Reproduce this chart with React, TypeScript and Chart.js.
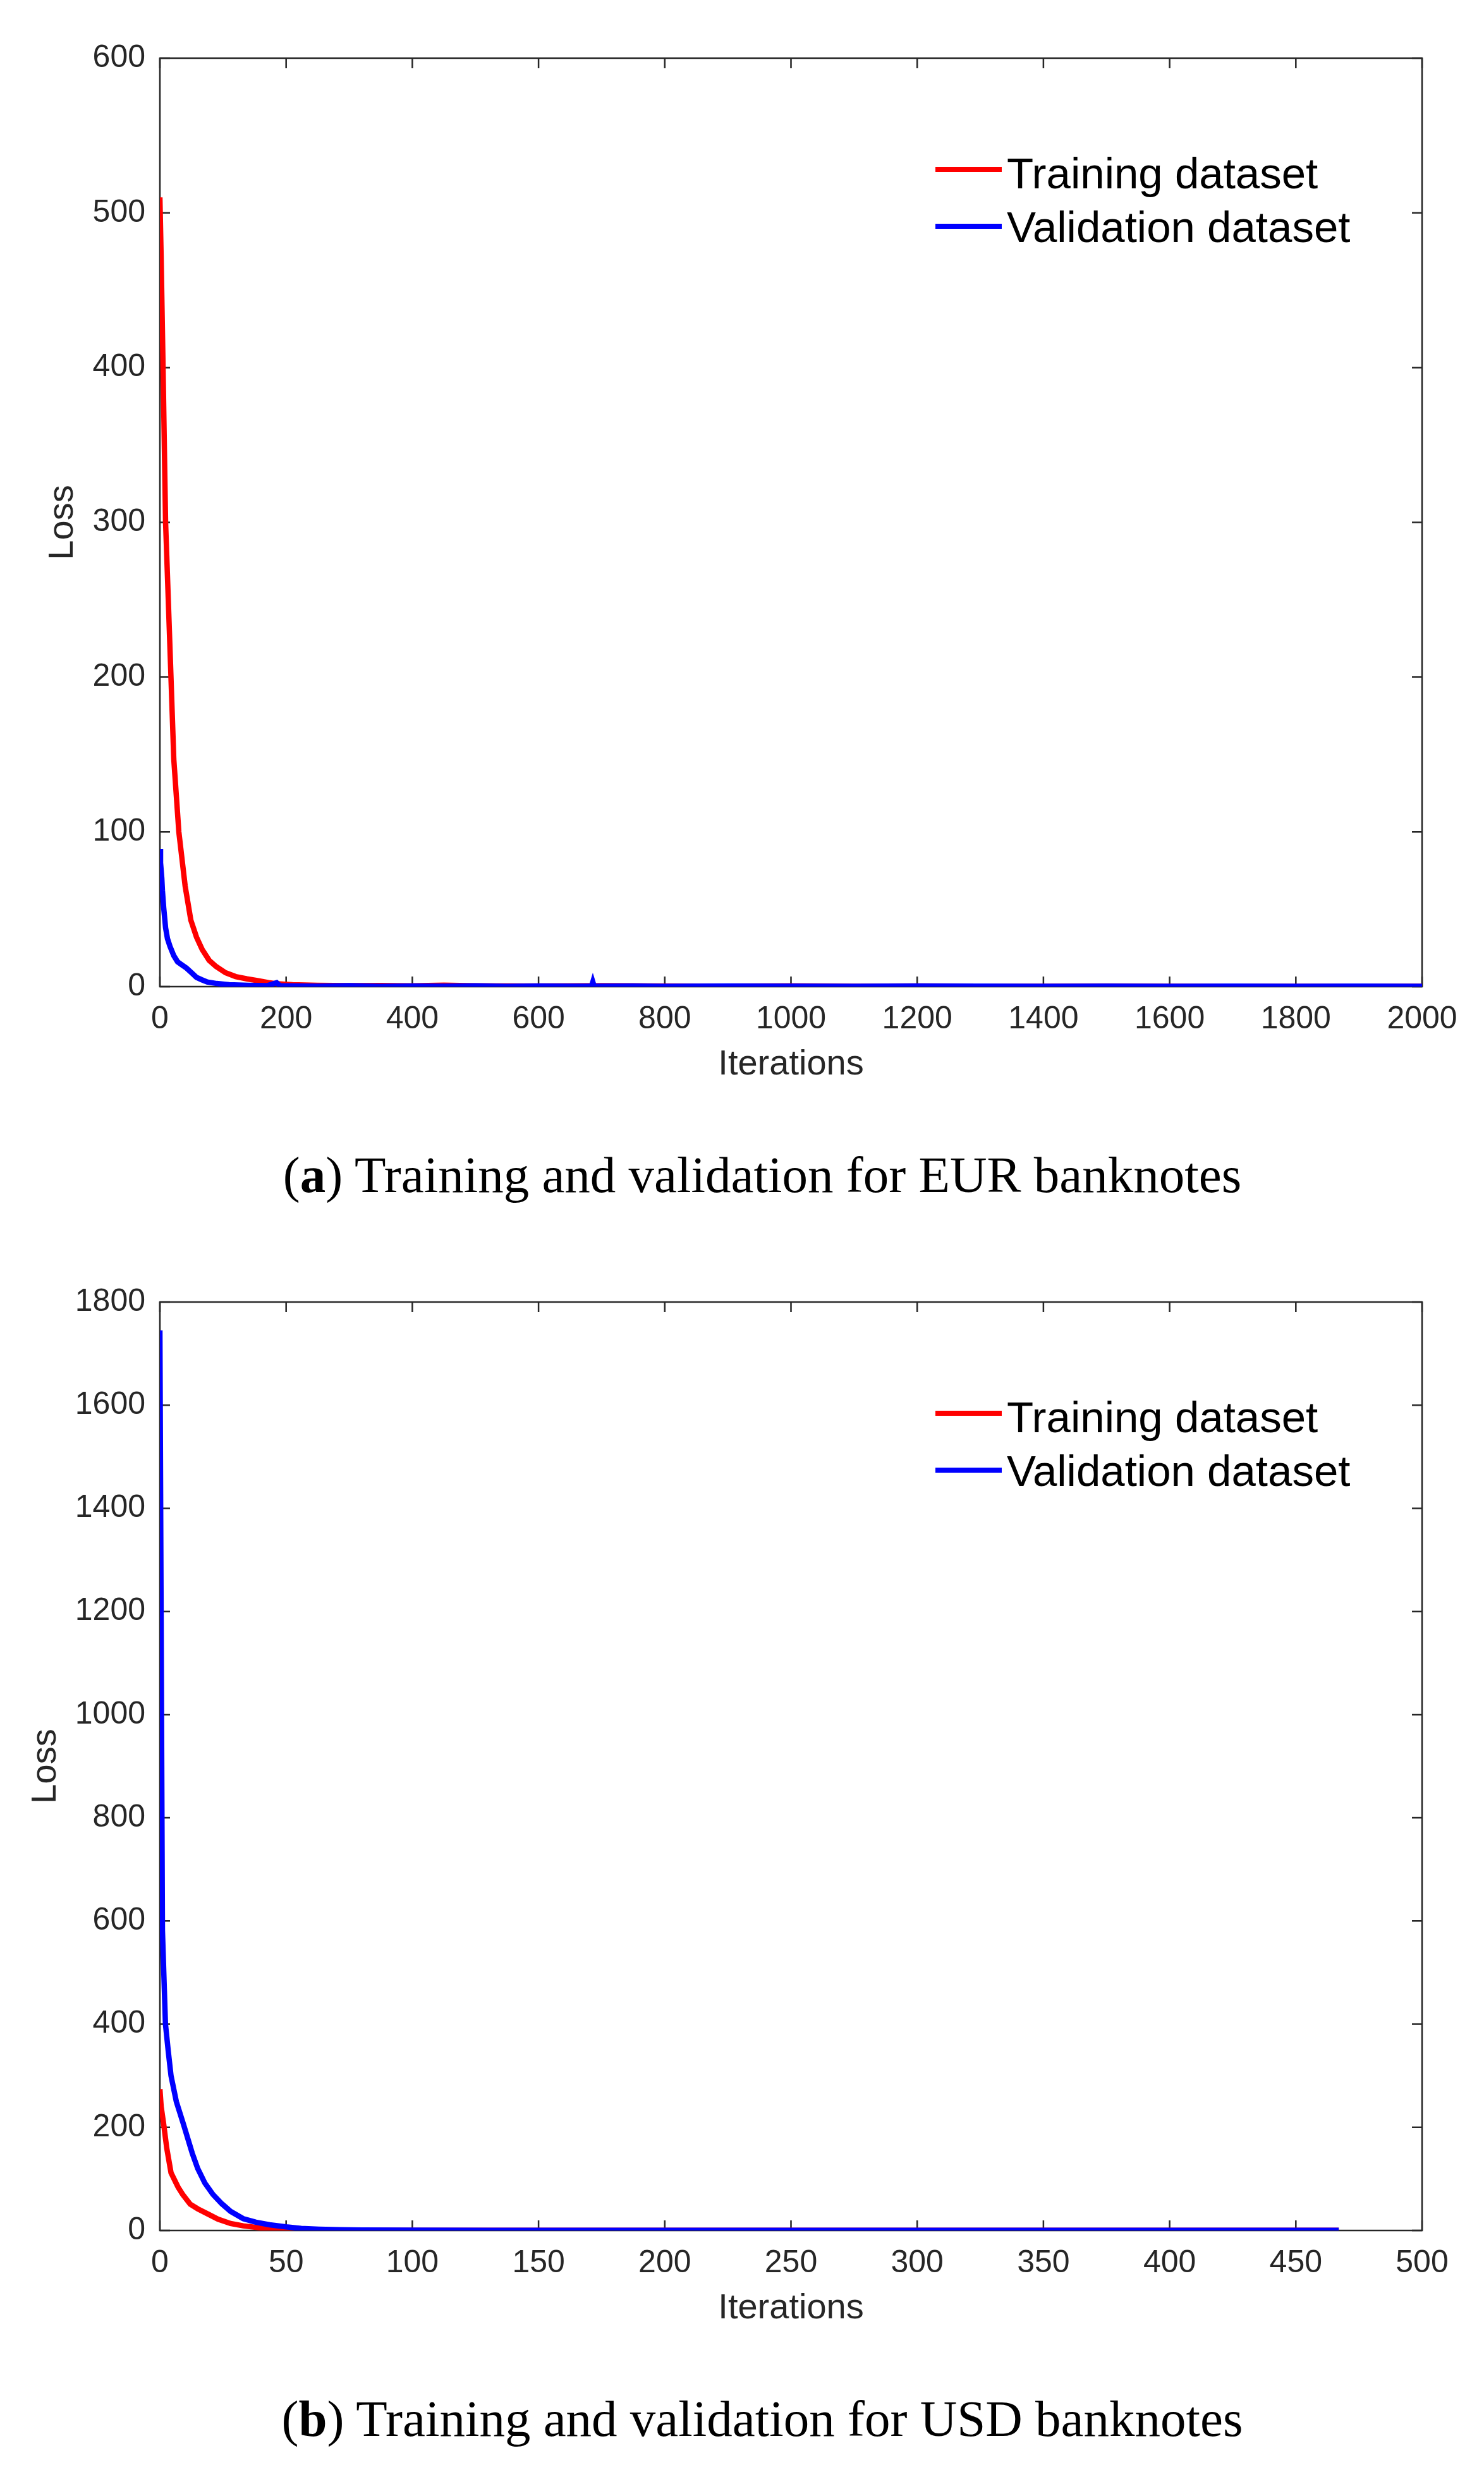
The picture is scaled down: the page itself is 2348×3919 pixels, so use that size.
import React, { useEffect, useRef } from "react";
import { Chart, registerables } from "chart.js";

Chart.register(...registerables);

// ---------- Data ----------
// (a) EUR banknotes
const EUR_TRAIN_X = [0, 2, 5, 9, 15, 22, 30, 40, 49, 58, 67, 78, 89, 104, 120, 138, 156, 172, 187, 210, 250, 300, 350, 400, 450, 500, 600, 700, 800, 900, 1000, 1100, 1200, 1300, 1400, 1500, 1600, 1700, 1800, 1900, 2000];
const EUR_TRAIN_Y = [510, 470, 400, 300, 230, 147, 100, 65, 43, 32, 24, 17, 13, 9, 6.5, 5, 3.8, 2.6, 1.8, 1.2, 0.8, 0.6, 0.7, 0.5, 0.9, 0.5, 0.4, 0.6, 0.4, 0.3, 0.5, 0.3, 0.4, 0.3, 0.3, 0.4, 0.3, 0.3, 0.2, 0.3, 0.3];
const EUR_VAL_X = [0, 1, 3, 4, 6, 9, 12, 16, 22, 28, 35, 42, 50, 58, 66, 75, 90, 110, 140, 170, 185, 190, 200, 250, 300, 350, 400, 450, 500, 550, 600, 650, 684, 686, 688, 750, 800, 900, 1000, 1100, 1200, 1300, 1400, 1500, 1600, 1700, 1800, 1900, 2000];
const EUR_VAL_Y = [89, 80, 70, 62, 51, 38, 31, 26, 20, 16, 14, 12, 9, 6, 4.5, 3, 2, 1.2, 0.8, 0.6, 2.5, 0.6, 0.5, 0.3, 0.6, 0.2, 0.4, 0.3, 0.5, 0.2, 0.4, 0.3, 0.3, 3.0, 0.3, 0.4, 0.2, 0.4, 0.3, 0.2, 0.4, 0.3, 0.2, 0.3, 0.2, 0.3, 0.2, 0.3, 0.2];

// (b) USD banknotes
const USD_TRAIN_X = [0, 0.5, 1.5, 2.7, 4.4, 7.2, 9, 12, 15, 19, 23, 28, 33, 39, 45, 52, 60, 70, 80, 100, 150, 200, 300, 400, 467];
const USD_TRAIN_Y = [274, 240, 206, 160, 112, 84, 70, 51, 42, 32, 22, 13.5, 9, 5.5, 3.5, 1.8, 1.2, 0.8, 0.5, 0.3, 0.2, 0.2, 0.2, 0.2, 0.2];
const USD_VAL_X = [0, 1, 2.2, 3.3, 4.4, 6.5, 9.4, 12.8, 15, 17.8, 21, 24.5, 28, 33, 38, 43.5, 50, 56, 63, 71, 80, 100, 130, 200, 300, 400, 467];
const USD_VAL_Y = [1745, 582, 400, 348, 300, 250, 205, 150, 120, 92, 70, 52, 37, 23, 16, 11, 7, 4, 2.5, 1.5, 1, 0.6, 0.4, 0.3, 0.3, 0.3, 0.3];

const SERIES_LABELS = ["Training dataset", "Validation dataset"];
const SERIES_COLORS = ["#ff0000", "#0000ff"];

const EUR_Y_MAX = 600;
const EUR_Y_STEP = 100;
const EUR_X_MAX = 2000;
const EUR_X_STEP = 200;
const USD_Y_MAX = 1800;
const USD_Y_STEP = 200;
const USD_X_MAX = 500;
const USD_X_STEP = 50;

const X_TITLE = "Iterations";
const Y_TITLE = "Loss";

// ---------- Styling ----------
const AXIS_COLOR = "#262626";
const SANS = "'Liberation Sans', Arial, Helvetica, sans-serif";
const SERIF = "'Liberation Serif', 'DejaVu Serif', serif";
const CANVAS_W = 2348;
const CANVAS_H = 1800;

const toPoints = (xs: number[], ys: number[]) => xs.map((x, i) => ({ x, y: ys[i] }));

const boxPlugin = {
  id: "matlabBox",
  beforeDatasetsDraw(chart: any) {
    const { ctx, chartArea } = chart;
    const { left, right, top, bottom } = chartArea;
    const xs = chart.scales.x;
    const ys = chart.scales.y;
    ctx.save();
    ctx.strokeStyle = AXIS_COLOR;
    ctx.lineWidth = 2.5;
    ctx.strokeRect(left, top, right - left, bottom - top);
    const len = 16;
    ctx.beginPath();
    xs.ticks.forEach((t: any) => {
      const px = xs.getPixelForValue(t.value);
      ctx.moveTo(px, bottom);
      ctx.lineTo(px, bottom - len);
      ctx.moveTo(px, top);
      ctx.lineTo(px, top + len);
    });
    ys.ticks.forEach((t: any) => {
      const py = ys.getPixelForValue(t.value);
      ctx.moveTo(left, py);
      ctx.lineTo(left + len, py);
      ctx.moveTo(right, py);
      ctx.lineTo(right - len, py);
    });
    ctx.stroke();
    ctx.restore();
  },
};

const legendPlugin = {
  id: "matlabLegend",
  afterDraw(chart: any) {
    const { ctx, chartArea } = chart;
    const { right, top } = chartArea;
    ctx.save();
    ctx.font = `69px ${SANS}`;
    ctx.textAlign = "left";
    ctx.textBaseline = "alphabetic";
    const lineY = [176, 266];
    const baseY = [206, 291];
    chart.data.datasets.forEach((ds: any, i: number) => {
      ctx.strokeStyle = ds.borderColor;
      ctx.lineWidth = 8;
      ctx.lineCap = "butt";
      ctx.beginPath();
      ctx.moveTo(right - 770, top + lineY[i]);
      ctx.lineTo(right - 665, top + lineY[i]);
      ctx.stroke();
      ctx.fillStyle = "#000000";
      ctx.fillText(ds.label, right - 657, top + baseY[i]);
    });
    ctx.restore();
  },
};

type PanelProps = {
  trainX: number[];
  trainY: number[];
  valX: number[];
  valY: number[];
  xMax: number;
  xStep: number;
  yMax: number;
  yStep: number;
  yTitlePad: number;
};

function LossChart(p: PanelProps) {
  const ref = useRef<HTMLCanvasElement | null>(null);
  useEffect(() => {
    if (!ref.current) return;
    const tickFont = { family: SANS, size: 50 };
    const titleFont = { family: SANS, size: 56 };
    const chart = new Chart(ref.current, {
      type: "line",
      data: {
        datasets: [
          {
            label: SERIES_LABELS[0],
            data: toPoints(p.trainX, p.trainY),
            borderColor: SERIES_COLORS[0],
            backgroundColor: SERIES_COLORS[0],
            borderWidth: 8.5,
            pointRadius: 0,
            tension: 0,
            order: 1,
          },
          {
            label: SERIES_LABELS[1],
            data: toPoints(p.valX, p.valY),
            borderColor: SERIES_COLORS[1],
            backgroundColor: SERIES_COLORS[1],
            borderWidth: 8.5,
            pointRadius: 0,
            tension: 0,
            order: 0,
          },
        ],
      },
      options: {
        animation: false,
        responsive: false,
        devicePixelRatio: 1,
        layout: { padding: { left: 0, right: 98, top: 92, bottom: CANVAS_H - 1561 - 157 } },
        plugins: { legend: { display: false }, tooltip: { enabled: false } },
        scales: {
          x: {
            type: "linear",
            min: 0,
            max: p.xMax,
            grid: { display: false, drawTicks: false, tickLength: 0 },
            border: { display: false },
            ticks: {
              stepSize: p.xStep,
              autoSkip: false,
              maxRotation: 0,
              padding: 22,
              color: AXIS_COLOR,
              font: tickFont,
              callback: (v: any) => String(v),
            },
            title: { display: true, text: X_TITLE, color: AXIS_COLOR, font: titleFont, padding: 0 },
            afterFit: (s: any) => {
              s.height = 157;
            },
          },
          y: {
            type: "linear",
            min: 0,
            max: p.yMax,
            grid: { display: false, drawTicks: false, tickLength: 0 },
            border: { display: false },
            ticks: {
              stepSize: p.yStep,
              autoSkip: false,
              padding: 23,
              color: AXIS_COLOR,
              font: tickFont,
              callback: (v: any) => String(v),
            },
            title: { display: true, text: Y_TITLE, color: AXIS_COLOR, font: titleFont, padding: { top: p.yTitlePad, bottom: 0 } },
            afterFit: (s: any) => {
              s.width = 253;
            },
          },
        },
      } as any,
      plugins: [boxPlugin, legendPlugin],
    });
    return () => chart.destroy();
  }, []);
  return <canvas ref={ref} width={CANVAS_W} height={CANVAS_H} style={{ display: "block", width: CANVAS_W, height: CANVAS_H }} />;
}

function Caption({ letter, text, top }: { letter: string; text: string; top: number }) {
  return (
    <div
      style={{
        position: "absolute",
        left: 1206,
        top,
        transform: "translateX(-50%)",
        whiteSpace: "nowrap",
        fontFamily: SERIF,
        fontSize: 81,
        lineHeight: 1,
        color: "#000",
      }}
    >
      (<b>{letter}</b>) {text}
    </div>
  );
}

export default function App() {
  return (
    <div style={{ position: "absolute", left: 0, top: 0, width: 2348, height: 3919, background: "#fff", overflow: "hidden" }}>
      <div style={{ position: "absolute", left: 0, top: 0 }}>
        <LossChart
          trainX={EUR_TRAIN_X}
          trainY={EUR_TRAIN_Y}
          valX={EUR_VAL_X}
          valY={EUR_VAL_Y}
          xMax={EUR_X_MAX}
          xStep={EUR_X_STEP}
          yMax={EUR_Y_MAX}
          yStep={EUR_Y_STEP}
          yTitlePad={66}
        />
      </div>
      <Caption letter="a" text="Training and validation for EUR banknotes" top={1819} />
      <div style={{ position: "absolute", left: 0, top: 1968 }}>
        <LossChart
          trainX={USD_TRAIN_X}
          trainY={USD_TRAIN_Y}
          valX={USD_VAL_X}
          valY={USD_VAL_Y}
          xMax={USD_X_MAX}
          xStep={USD_X_STEP}
          yMax={USD_Y_MAX}
          yStep={USD_Y_STEP}
          yTitlePad={39}
        />
      </div>
      <Caption letter="b" text="Training and validation for USD banknotes" top={3787} />
    </div>
  );
}
